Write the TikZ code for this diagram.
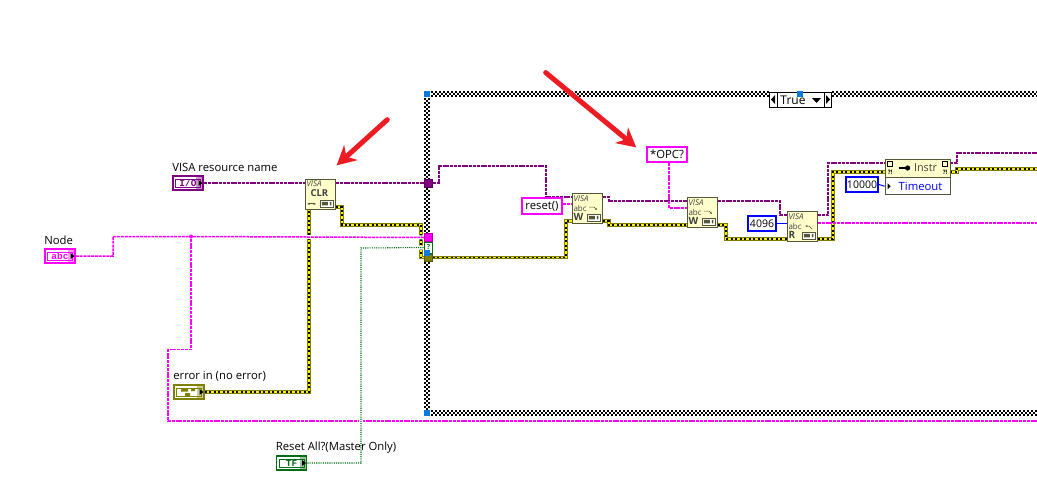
\documentclass[tikz,border=0pt]{standalone}
\usepackage{fontspec}
\setmainfont{Open Sans}
\newfontfamily\iconfont{Liberation Mono}
\usetikzlibrary{arrows.meta,positioning,backgrounds}
\definecolor{visapurple}{HTML}{800080}
\definecolor{stringpink}{HTML}{FF00FF}
\definecolor{errolive}{HTML}{808000}
\definecolor{boolgreen}{HTML}{006E14}
\definecolor{numblue}{HTML}{0000FF}
\definecolor{fnyellow}{HTML}{FFFFCC}
\definecolor{fnedge}{HTML}{55553A}
\definecolor{cornerblue}{HTML}{0A7BDC}
\definecolor{arrowred}{HTML}{ED1C24}
\tikzset{
  lbl/.style={font=\fontsize{11.3}{13}\selectfont, inner sep=0pt, anchor=south west},
  ctlbox/.style={draw=#1, line width=1.8pt, fill=white, minimum width=30pt, minimum height=14pt,
                 inner sep=0pt, text=#1, font=\iconfont\bfseries\fontsize{9.5}{9}\selectfont},
  constbox/.style={draw=#1, line width=2.3pt, fill=white, inner sep=0pt, text=black,
                   font=\fontsize{11.3}{13}\selectfont},
  numbox/.style={constbox=numblue, font=\fontsize{10.5}{12}\selectfont},
  fnbox/.style={draw=fnedge, fill=fnyellow, line width=.8pt, minimum width=30pt, minimum height=30pt,
                inner sep=0pt, text width=28pt, align=left, text=black!75,
                font=\fontsize{8}{9.5}\selectfont},
  tunnel/.style={draw=#1!70!black, fill=#1, line width=.8pt, minimum width=8pt, minimum height=8pt, inner sep=0pt},
  corner/.style={fill=cornerblue, minimum width=6pt, minimum height=6pt, inner sep=0pt},
  visawire/.style={draw=visapurple, line width=1.5pt, dash pattern=on 3pt off .8pt},
  strwire/.style={draw=stringpink, line width=1.5pt, dash pattern=on 3pt off .8pt},
  halostr/.style={strwire, preaction={draw=white, line width=4pt, solid}},
  errwire/.style={draw=yellow, line width=1.6pt, preaction={draw=errolive, line width=3.6pt},
                  postaction={draw=black, line width=1.6pt, dash pattern=on 2pt off 2.5pt}},
  boolwire/.style={draw=boolgreen, line width=1.1pt, dash pattern=on 1.1pt off 1.1pt,
                   preaction={draw=white, line width=4pt, solid}},
  numwire/.style={draw=numblue, line width=1pt},
  redarrow/.style={draw=arrowred, line width=5pt, line cap=round, -{Stealth[length=19pt,width=20pt,inset=6pt]}}
}

\begin{document}
\begin{tikzpicture}[x=1pt,y=-1pt]
  \useasboundingbox (0,0) rectangle (1037,498);
  % controls on the left
  \node[ctlbox=stringpink] (ctlnode) at (60,256) {abc};
  \node[ctlbox=visapurple] (ctlvisa) at (188,183) {I/O};
  \node[ctlbox=errolive] (ctlerr) at (189,392) {};
  \node[ctlbox=boolgreen] (ctlreset) at (291.5,463) {TF};
  \node[lbl,above=3pt of ctlnode.north west,anchor=south west] (lblnode) {Node};
  \node[lbl,above=3pt of ctlvisa.north west,anchor=south west] (lblvisa) {VISA resource name};
  \node[lbl,above=3pt of ctlerr.north west,anchor=south west] (lblerr) {error in (no error)};
  \node[lbl,above=2pt of ctlreset.north west,anchor=south west] (lblreset) {Reset All?(Master Only)};
  \foreach \cname/\ccol in {ctlnode/stringpink,ctlvisa/visapurple,ctlerr/errolive,ctlreset/boolgreen} {
    \draw[\ccol,line width=.8pt] ([shift={(-12.5,-4)}]\cname.center) rectangle ([shift={(12.5,4)}]\cname.center);
    \fill[\ccol,fill opacity=.4] ([shift={(8,-6)}]\cname.center) rectangle ([shift={(14,6)}]\cname.center);
    \fill[black] ([shift={(10.5,-3)}]\cname.center) -- ([shift={(14.5,0)}]\cname.center) -- ([shift={(10.5,3)}]\cname.center) -- cycle;
  }
  \fill[errolive] (181,388.5) rectangle (188,391.5) (185,393) rectangle (190,396) (191,389) rectangle (195,391);
  % function blocks
  \node[fnbox] (clr) at (320.5,194.5) {\textit{VISA}\\[.5pt]\hspace*{4pt}{\fontsize{9.5}{9.5}\selectfont\bfseries CLR}\\[-1pt]\strut};
  \node[fnbox] (wrone) at (587.5,208.5) {\textit{VISA}\\abc\\{\fontsize{10}{9.5}\selectfont\bfseries W}};
  \node[fnbox] (wrtwo) at (702.5,212.5) {\textit{VISA}\\abc\\{\fontsize{10}{9.5}\selectfont\bfseries W}};
  \node[fnbox] (rdblk) at (802.5,226.5) {\textit{VISA}\\abc\\{\fontsize{10}{9.5}\selectfont\bfseries R}};
  \foreach \f in {clr,wrone,wrtwo,rdblk} {
    \draw[fnedge,line width=.7pt,fill=white] ([shift={(-16,-10)}]\f.south east) rectangle ([shift={(-3,-2.5)}]\f.south east);
    \fill[fnedge] ([shift={(-14,-8)}]\f.south east) rectangle ([shift={(-8,-4.5)}]\f.south east)
                  ([shift={(-6,-8)}]\f.south east) rectangle ([shift={(-4.5,-4.5)}]\f.south east);
  }
  \foreach \f in {wrone,wrtwo} {
    \draw[fnedge,line width=.6pt,-{Stealth[length=2.5pt]}] ([shift={(17,14)}]\f.north west) -- ++(5,0) -- ++(3,3);
  }
  \draw[fnedge,line width=.6pt,-{Stealth[length=2.5pt]}] ([shift={(25,18)}]rdblk.north west) -- ++(-3,-3) -- ++(-4,0);
  \draw[fnedge,line width=1pt,{Stealth[length=3pt]}-{Stealth[length=3pt]}] ([shift={(2,-6)}]clr.south west) -- ++(9,0);
  % constants
  \node[constbox=stringpink,minimum width=40pt,minimum height=16pt] (rstconst) at (542,206) {reset()};
  \node[constbox=stringpink,minimum width=40pt,minimum height=15pt] (opcconst) at (667,154.5) {*OPC?};
  \node[numbox,minimum width=28pt,minimum height=15pt] (bufconst) at (762,223.5) {4096};
  \node[numbox,minimum width=32pt,minimum height=15pt] (tmoconst) at (862,184.5) {10000};
  % property node
  \node[draw=fnedge,line width=.8pt,fill=fnyellow,minimum width=65pt,minimum height=18pt,inner sep=0pt,
        font=\fontsize{10.8}{12}\selectfont,text=black!75] (instr) at (917.5,168) {\hspace*{16pt}Instr};
  \node[draw=fnedge,line width=.8pt,fill=white,minimum width=65pt,minimum height=17pt,inner sep=0pt,
        below=0pt of instr,text=numblue,font=\fontsize{11.3}{12}\selectfont] (tmoprop) {\hspace*{6pt}Timeout};
  \fill[black] ([shift={(3,-3)}]tmoprop.west) -- ([shift={(6,0)}]tmoprop.west) -- ([shift={(3,3)}]tmoprop.west) -- cycle;
  \draw[black,line width=1.6pt] ([shift={(14,0)}]instr.west) -- ++(8,0);
  \fill[black] ([shift={(23,0)}]instr.west) circle (2.6pt);
  \foreach \s in {3,58} {
    \draw[black,line width=.7pt] ([shift={(\s,-7)}]instr.west) rectangle ++(4.5,5);
    \node[inner sep=0pt,font=\bfseries\fontsize{6}{6}\selectfont] (q\s) at ([shift={(\s+2.5,4.5)}]instr.west) {?!};
  }
  % case frame
  \node[draw=black,line width=1pt,fill=white,minimum width=62pt,minimum height=15pt,inner sep=0pt] (casesel) at (800.5,99.5) {};
  \node[inner sep=0pt,font=\fontsize{12}{13}\selectfont] (casetxt) at (793,100) {True};
  \draw[black,line width=.8pt] (777,92) -- (777,107) (824,92) -- (824,107);
  \fill[black] (775,95) -- (775,104) -- (771,99.5) -- cycle
               (826,95) -- (826,104) -- (830,99.5) -- cycle
               (812,98) -- (821,98) -- (816.5,103) -- cycle;
  \node[corner] (cornertop) at (800,93.5) {};
  \node[corner] (cornernw) at (427,94) {};
  \node[corner] (cornersw) at (427,413) {};
  % tunnels
  \node[tunnel=visapurple] (tunvisa) at (428.5,183) {};
  \node[tunnel=stringpink] (tunstr) at (428.5,237.5) {};
  \node[draw=boolgreen,line width=.8pt,fill=white,minimum width=8pt,minimum height=11pt,inner sep=0pt,
        text=boolgreen,font=\bfseries\fontsize{7}{7}\selectfont] (tunsel) at (428.5,247.5) {?};
  \node[tunnel=errolive,minimum height=7pt] (tunerr) at (428.5,257.5) {};
  \node[corner] (cornersel) at (427,253) {};
  \node[circle,fill=stringpink,minimum size=4pt,inner sep=0pt] (jnode) at (191,236.5) {};
  \coordinate (rightvisa) at (1037,153);
  \coordinate (righterr) at (1037,169);
  \coordinate (rightstr) at (1037,223);
  \coordinate (rightbot) at (1037,421);
  \node[inner sep=0pt] (tailone) at (388,119) {};
  \node[inner sep=0pt] (tipone) at (336,166) {};
  \node[inner sep=0pt] (tailtwo) at (545,72) {};
  \node[inner sep=0pt] (tiptwo) at (637,148) {};
  \draw[redarrow] (tailone) -- (tipone);
  \draw[redarrow] (tailtwo) -- (tiptwo);
  % wires sit under the blocks
  \begin{scope}[on background layer]
    \fill[white] (0,0) rectangle (1037,498);
    \foreach \d/\ph in {1/0,3/2,5/0} {
      \draw[line width=2pt,dash pattern=on 2pt off 2pt,dash phase=\ph pt] (424+\d,98) -- (424+\d,410);
      \draw[line width=2pt,dash pattern=on 2pt off 2pt,dash phase=\ph pt] (431,91+\d) -- (769,91+\d);
      \draw[line width=2pt,dash pattern=on 2pt off 2pt,dash phase=\ph pt] (832,91+\d) -- (1037,91+\d);
      \draw[line width=2pt,dash pattern=on 2pt off 2pt,dash phase=\ph pt] (431,410+\d) -- (1037,410+\d);
    }
    \draw[errwire] (ctlerr.east) -- (309,392) -- (309,210);
    \draw[errwire] ([yshift=-12.5pt]clr.east) -- (342,207) -- (342,225) -- (421,225) -- (421,257.5) -- (tunerr.west);
    \draw[errwire] (tunerr.east) -- (566,257.5) -- (566,221) -- ([yshift=-12.5pt]wrone.west);
    \draw[errwire] ([yshift=-12.5pt]wrone.east) -- (609,221) -- (609,225) -- ([yshift=-12.5pt]wrtwo.west);
    \draw[errwire] ([yshift=-12.5pt]wrtwo.east) -- (726,225) -- (726,239) -- ([yshift=-12.5pt]rdblk.west);
    \draw[errwire] ([yshift=-12.5pt]rdblk.east) -- (833,239) -- (833,172) -- ([yshift=-4pt]instr.west);
    \draw[errwire] ([yshift=-4pt]instr.east) -- (957,172) -- (957,169) -- (righterr);
    \draw[visawire] (ctlvisa.east) -- ([yshift=11.5pt]clr.west);
    \draw[visawire] ([yshift=11.5pt]clr.east) -- (tunvisa.west);
    \draw[visawire] (tunvisa.east) -- (439,183) -- (439,166) -- (546,166) -- (546,197) -- ([yshift=11.5pt]wrone.west);
    \draw[visawire] ([yshift=11.5pt]wrone.east) -- (609,197) -- (609,201) -- ([yshift=11.5pt]wrtwo.west);
    \draw[visawire] ([yshift=11.5pt]wrtwo.east) -- (780,201) -- (780,215) -- ([yshift=11.5pt]rdblk.west);
    \draw[visawire] ([yshift=11.5pt]rdblk.east) -- (828,215) -- (828,163) -- ([yshift=5pt]instr.west);
    \draw[visawire] ([yshift=5pt]instr.east) -- (957,163) -- (957,153) -- (rightvisa);
    \draw[halostr] (ctlnode.east) -- (113,256) -- (113,236.5) -- (jnode) -- (tunstr.west);
    \draw[halostr] (jnode) -- (191,349.5) -- (168,349.5) -- (168,421) -- (rightbot);
    \draw[strwire] ([yshift=2pt]rstconst.east) -- ([yshift=4.5pt]wrone.west);
    \draw[strwire] ([xshift=2pt]opcconst.south) -- (669,208) -- ([yshift=4.5pt]wrtwo.west);
    \draw[strwire] ([yshift=3.5pt]rdblk.east) -- (rightstr);
    \draw[boolwire] (ctlreset.east) -- (361,463) -- (361,248) -- (tunsel.west);
    \draw[numwire] (bufconst.east) -- (rdblk.west |- bufconst.east);
    \draw[numwire] (tmoconst.east) -- (tmoprop.west);
  \end{scope}
\end{tikzpicture}
\end{document}
